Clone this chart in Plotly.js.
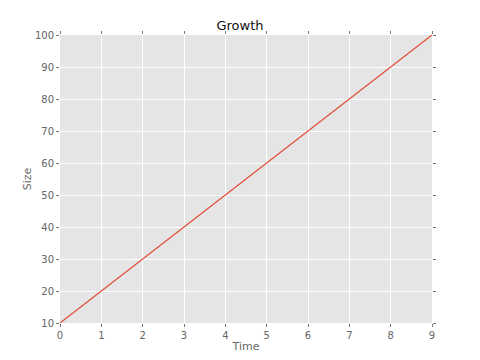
<!DOCTYPE html>
<html>
<head>
<meta charset="utf-8">
<script src="https://cdn.plot.ly/plotly-3.0.1.min.js"></script>
<style>html,body{margin:0;padding:0;background:#fff;}#chart{width:480px;height:360px;}</style>
</head>
<body>
<div id="chart"></div>
<script>
var time = [0, 1, 2, 3, 4, 5, 6, 7, 8, 9];
var size = [10, 20, 30, 40, 50, 60, 70, 80, 90, 100];
var xTicks = [0, 1, 2, 3, 4, 5, 6, 7, 8, 9];
var yTicks = [10, 20, 30, 40, 50, 60, 70, 80, 90, 100];

var trace = {
  x: time, y: size, type: 'scatter', mode: 'lines',
  line: {color: '#E24A33', width: 1.2},
  hoverinfo: 'none'
};
var axisCommon = {
  showgrid: true, gridcolor: '#ffffff', gridwidth: 1,
  zeroline: false, showline: false,
  ticks: 'outside', ticklen: 3, tickwidth: 1, tickcolor: '#777777',
  mirror: 'ticks',
  tickfont: {family: 'DejaVu Sans', size: 10, color: '#666666'}
};
var layout = {
  width: 480, height: 360,
  margin: {l: 60, r: 48, t: 35, b: 37},
  paper_bgcolor: '#ffffff', plot_bgcolor: '#E5E5E5',
  showlegend: false,
  title: {text: 'Growth', font: {family: 'DejaVu Sans', size: 13, color: '#111111'}, x: 0.5, xanchor: 'center', y: 0.93, yanchor: 'middle', yref: 'container'},
  xaxis: Object.assign({}, axisCommon, {
    range: [0, 9], tickvals: xTicks, ticktext: xTicks.map(String),
    title: {text: 'Time', font: {family: 'DejaVu Sans', size: 11, color: '#666666'}, standoff: 2}
  }),
  yaxis: Object.assign({}, axisCommon, {
    range: [10, 100], tickvals: yTicks, ticktext: yTicks.map(String),
    title: {text: 'Size', font: {family: 'DejaVu Sans', size: 11, color: '#666666'}, standoff: 1}
  })
};
Plotly.newPlot('chart', [trace], layout, {staticPlot: true, displayModeBar: false});
</script>
</body>
</html>
